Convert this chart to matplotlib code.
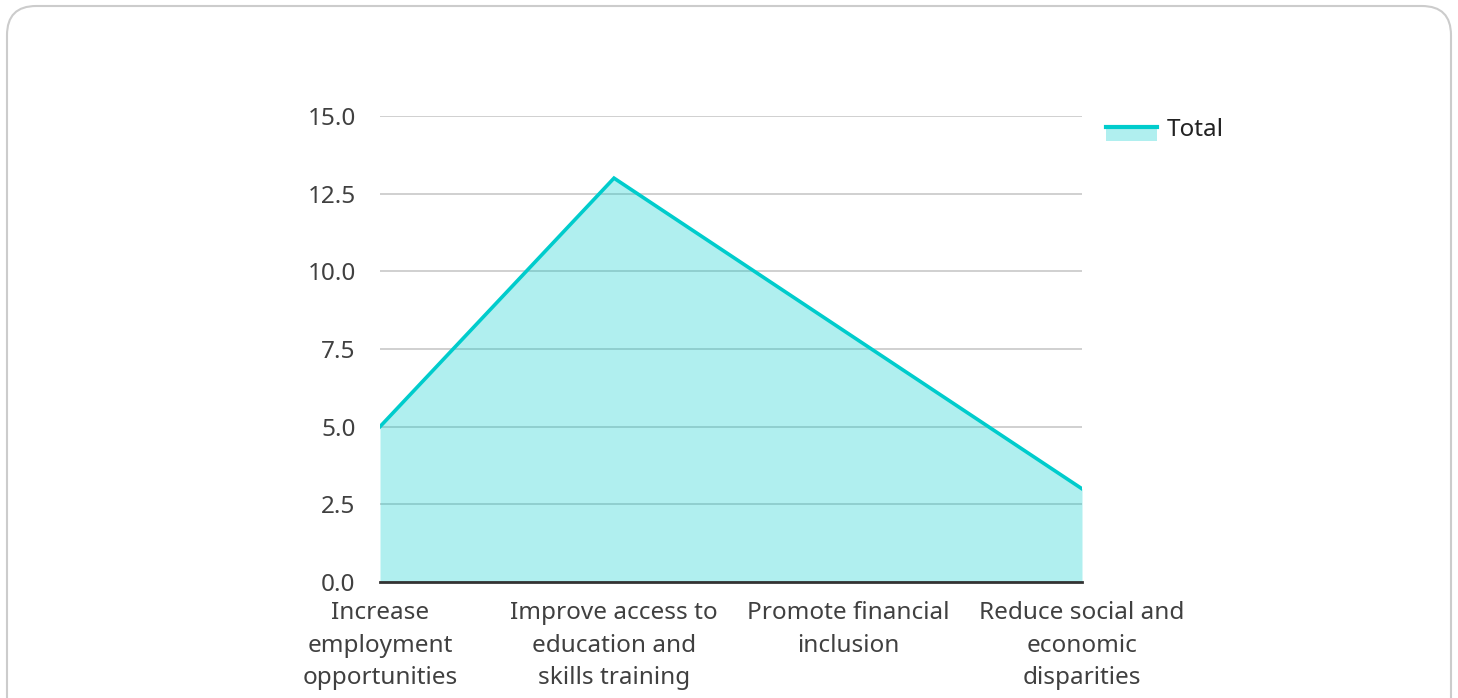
import matplotlib
matplotlib.use("Agg")
import matplotlib.pyplot as plt
from matplotlib.patches import FancyBboxPatch, Rectangle
from matplotlib.lines import Line2D
from matplotlib.legend_handler import HandlerBase

categories = ["Increase\nemployment\nopportunities",
              "Improve access to\neducation and\nskills training",
              "Promote financial\ninclusion",
              "Reduce social and\neconomic\ndisparities"]
values = [5, 13, 8, 3]
yticks = [0.0, 2.5, 5.0, 7.5, 10.0, 12.5, 15.0]
series_name = "Total"

LINE = "#00CCCC"
TEXT = "#404040"
FS = 17.5
plt.rcParams['font.family'] = ['Noto Sans', 'DejaVu Sans']

fig = plt.figure(figsize=(14.58, 6.98), dpi=100)
fig.patches.append(FancyBboxPatch((7/1458, -0.05), 1444/1458, 1.05 - 6/698,
                                  boxstyle="round,pad=0,rounding_size=0.02",
                                  transform=fig.transFigure, facecolor="white",
                                  edgecolor="#cccccc", linewidth=1.5, zorder=-10,
                                  mutation_aspect=1458/698))

ax = fig.add_axes([380/1458, 1 - 582/698, (1082 - 380)/1458, (582 - 116)/698])
x = list(range(len(categories)))
ax.fill_between(x, values, 0, color=LINE, alpha=0.31, linewidth=0, zorder=2)
ax.plot(x, values, color=LINE, linewidth=2.6, zorder=3, solid_joinstyle="miter")
ax.set_xlim(0, len(categories) - 1)
ax.set_ylim(0, 15)
ax.set_yticks(yticks)
ax.set_yticklabels([f"{v:.1f}" for v in yticks])
ax.set_xticks(x)
ax.set_xticklabels(categories, linespacing=1.45)
ax.grid(axis="y", color="#c8c8c8", linewidth=1.2, zorder=1)
ax.set_axisbelow(True)
for s in ["top", "right", "left"]:
    ax.spines[s].set_visible(False)
ax.spines["bottom"].set_color("#333333")
ax.spines["bottom"].set_linewidth(2)
ax.spines["bottom"].set_zorder(4)
ax.tick_params(axis="both", length=0, labelsize=FS, labelcolor=TEXT)
ax.tick_params(axis="y", pad=17.5)
ax.tick_params(axis="x", pad=14)


class AreaHandler(HandlerBase):
    def create_artists(self, legend, orig_handle, xdescent, ydescent, width, height, fontsize, trans):
        top = -ydescent + 0.5 * height
        r = Rectangle((-xdescent, top - 0.78 * height), width, 0.78 * height,
                      facecolor=LINE, alpha=0.31, edgecolor="none", transform=trans)
        l = Line2D([-xdescent, -xdescent + width], [top, top], color=LINE,
                   linewidth=3, transform=trans)
        return [r, l]


handle = Rectangle((0, 0), 1, 1)
leg = fig.legend([handle], [series_name], handler_map={Rectangle: AreaHandler()},
                 loc="upper left", bbox_to_anchor=(1106/1458, 1 - 118/698),
                 frameon=False, fontsize=FS, handlelength=2.1, handleheight=0.7,
                 handletextpad=0.4, borderpad=0, borderaxespad=0, labelcolor="#222222")

fig.savefig("out.png", dpi=100)
